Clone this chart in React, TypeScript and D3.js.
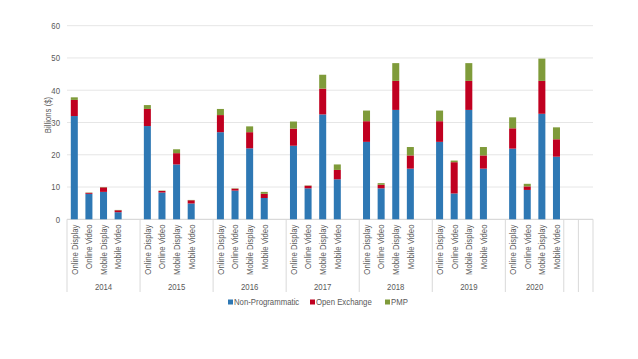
import React from "react";
import * as d3 from "d3";

// values in billions ($)
const years = ["2014", "2015", "2016", "2017", "2018", "2019", "2020"];
const products = ["Online Display", "Online Video", "Mobile Display", "Mobile Video"];
const seriesNames = ["Non-Programmatic", "Open Exchange", "PMP"];
const colors = ["#2e78b4", "#c00020", "#7f9b3a"];

// one entry per year, in products order
const nonProgrammatic = [
  [32.0, 7.9, 8.5, 2.2],
  [28.9, 8.3, 17.0, 4.9],
  [27.0, 8.9, 22.0, 6.6],
  [22.8, 9.6, 32.5, 12.4],
  [24.0, 9.6, 33.9, 15.7],
  [24.0, 8.0, 33.9, 15.7],
  [21.9, 9.1, 32.7, 19.4],
];
const openExchange = [
  [5.0, 0.3, 1.4, 0.6],
  [5.3, 0.5, 3.5, 1.0],
  [5.3, 0.6, 5.0, 1.3],
  [5.3, 0.8, 8.0, 2.9],
  [6.4, 1.1, 9.0, 4.1],
  [6.4, 9.7, 9.0, 4.1],
  [6.3, 1.1, 10.2, 5.4],
];
const pmp = [
  [0.8, 0.1, 0.1, 0.1],
  [1.2, 0.1, 1.2, 0.1],
  [1.9, 0.1, 1.8, 0.6],
  [2.2, 0.1, 4.3, 1.7],
  [3.3, 0.5, 5.5, 2.6],
  [3.3, 0.5, 5.5, 2.6],
  [3.4, 0.8, 6.9, 3.7],
];
const yTicks = [0, 10, 20, 30, 40, 50, 60];

const W = 638;
const H = 359;
const left = 67;
const right = 593;
const top = 25.7;
const bottom = 219.3;

type Slot = { id: string; year: string; product: string; values: number[] | null };

// each year gets four bars and a blank slot; 2020 has no blank, then two empty categories
const slots: Slot[] = [];
const groups: { year: string; ids: string[] }[] = [];
years.forEach((y, yi) => {
  const ids: string[] = [];
  products.forEach((p, pi) => {
    const id = `${y}-${p}`;
    ids.push(id);
    slots.push({
      id,
      year: y,
      product: p,
      values: [nonProgrammatic[yi][pi], openExchange[yi][pi], pmp[yi][pi]],
    });
  });
  if (yi < years.length - 1) {
    const id = `${y}-blank`;
    ids.push(id);
    slots.push({ id, year: y, product: "", values: null });
  }
  groups.push({ year: y, ids });
});
["extra1", "extra2"].forEach((id) => {
  slots.push({ id, year: "", product: "", values: null });
  groups.push({ year: "", ids: [id] });
});

const font = "'Liberation Sans', Arial, sans-serif";
const textColor = "#595959";
const fs = 9.5;
// the reference text is narrow, squeeze it along its run
const squeeze = "scale(0.82,1)";

export default function App() {
  const x = d3
    .scaleBand<string>()
    .domain(slots.map((s) => s.id))
    .range([left, right])
    .padding(0);
  const y = d3.scaleLinear().domain([0, 60]).range([bottom, top]);
  const barW = x.bandwidth() * 0.48;

  const stackRows = slots
    .filter((s) => s.values)
    .map((s) => {
      const row: any = { id: s.id };
      seriesNames.forEach((n, i) => (row[n] = s.values![i]));
      return row;
    });
  const stacked = d3.stack<any>().keys(seriesNames)(stackRows);

  const boundaries: number[] = groups.map((g) => x(g.ids[0])!);
  boundaries.push(right);

  const legendX = [228, 310, 385];

  return (
    <svg width={W} height={H} style={{ position: "absolute", left: 0, top: 0 }} fontFamily={font}>
      <rect width={W} height={H} fill="#fff" />
      {yTicks.map((t) => (
        <g key={t}>
          <line
            x1={left}
            x2={right}
            y1={y(t)}
            y2={y(t)}
            stroke={t === 0 ? "#d0d0d0" : "#e6e6e6"}
            strokeWidth={1}
          />
          <text
            transform={`translate(60,${y(t)}) ${squeeze}`}
            dy="0.35em"
            textAnchor="end"
            fontSize={fs}
            fill={textColor}
          >
            {t}
          </text>
        </g>
      ))}
      <text
        transform={`translate(48,115) rotate(-90) ${squeeze}`}
        textAnchor="middle"
        dy="0.35em"
        fontSize={fs}
        fill={textColor}
      >
        Billions ($)
      </text>
      {stacked.map((layer, li) => (
        <g key={layer.key} fill={colors[li]}>
          {layer.map((d: any) => (
            <rect
              key={d.data.id}
              x={x(d.data.id)! + (x.bandwidth() - barW) / 2}
              y={y(d[1])}
              width={barW}
              height={y(d[0]) - y(d[1])}
            />
          ))}
        </g>
      ))}
      {boundaries.map((b, i) => (
        <line key={i} x1={b} x2={b} y1={bottom} y2={292} stroke="#d9d9d9" strokeWidth={1} />
      ))}
      {slots
        .filter((s) => s.product)
        .map((s) => (
          <text
            key={s.id}
            transform={`translate(${x(s.id)! + x.bandwidth() / 2},224.5) rotate(-90) ${squeeze}`}
            textAnchor="end"
            dy="0.35em"
            fontSize={fs}
            fill={textColor}
          >
            {s.product}
          </text>
        ))}
      {groups
        .filter((g) => g.year)
        .map((g) => {
          const x0 = x(g.ids[0])!;
          const x1 = x(g.ids[g.ids.length - 1])! + x.bandwidth();
          return (
            <text
              key={g.year}
              transform={`translate(${(x0 + x1) / 2},289.5) ${squeeze}`}
              textAnchor="middle"
              fontSize={fs}
              fill={textColor}
            >
              {g.year}
            </text>
          );
        })}
      {seriesNames.map((n, i) => (
        <g key={n}>
          <rect x={legendX[i]} y={299.5} width={5} height={5} fill={colors[i]} />
          <text
            transform={`translate(${legendX[i] + 6},302) ${squeeze}`}
            dy="0.35em"
            fontSize={fs}
            fill={textColor}
          >
            {n}
          </text>
        </g>
      ))}
    </svg>
  );
}
